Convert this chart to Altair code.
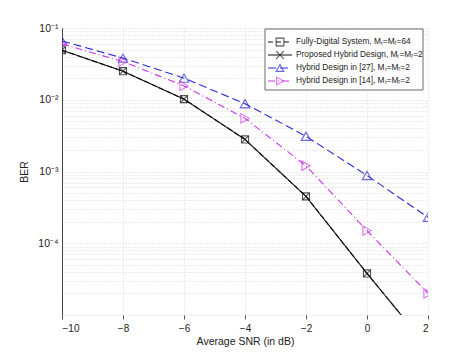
import altair as alt
import pandas as pd

snr = [-10, -8, -6, -4, -2, 0, 2]
ber_fd = [0.049, 0.025, 0.0102, 0.0028, 4.5e-4, 3.8e-5, 3.5e-6]
ber_prop = [0.049, 0.025, 0.0102, 0.0028, 4.5e-4, 3.8e-5, 3.5e-6]
ber_27 = [0.066, 0.038, 0.020, 0.0088, 3.1e-3, 8.8e-4, 2.3e-4]
ber_14 = [0.060, 0.034, 0.0156, 0.0055, 1.2e-3, 1.5e-4, 2.0e-5]

labels = [
    "Fully-Digital System, Mₜ=Mᵣ=64",
    "Proposed Hybrid Design, Mₜ=Mᵣ=2",
    "Hybrid Design in [27], Mₜ=Mᵣ=2",
    "Hybrid Design in [14], Mₜ=Mᵣ=2",
]
x_ticks = [-10, -8, -6, -4, -2, 0, 2]
minor = [m * d for d in [1e-5, 1e-4, 1e-3, 1e-2] for m in range(1, 10)] + [1e-1]

FONT = "Liberation Sans"
W, H = 366, 287

x_scale = alt.Scale(domain=[-10, 2], nice=False)
y_scale = alt.Scale(type="log", domain=[1e-5, 1e-1], nice=False)

label_expr = ("abs(log(datum.value)/LN10 - round(log(datum.value)/LN10)) < 0.001 ? "
              "(datum.value > 0.09 ? '10⁻¹' : datum.value > 0.009 ? '10⁻²' : "
              "datum.value > 0.0009 ? '10⁻³' : datum.value > 0.00009 ? '10⁻⁴' : '') : ''")

def frame(vals):
    return pd.DataFrame({"snr": snr, "ber": vals})

x_axis = alt.Axis(values=x_ticks, title="Average SNR (in dB)", grid=True,
                  gridDash=[1, 2], gridColor="#d6d6d6", domain=False,
                  tickColor="#555", tickSize=4, labelFont=FONT, labelFontSize=10,
                  labelColor="#222", titleFont=FONT, titleFontSize=10.5,
                  titleFontWeight="normal", titleColor="#222", labelPadding=4,
                  titlePadding=3)
y_axis = alt.Axis(values=minor, labelExpr=label_expr, title="BER", grid=True,
                  gridDash=[1, 2], gridColor="#d6d6d6", domainColor="#444",
                  tickSize=0, labelFont=FONT, labelFontSize=10.5, labelColor="#222",
                  titleFont=FONT, titleFontSize=10.5, titleFontWeight="normal",
                  titleColor="#222", labelPadding=4, titlePadding=8)

X = alt.X("snr:Q", scale=x_scale, axis=x_axis)
Y = alt.Y("ber:Q", scale=y_scale, axis=y_axis)

def series(vals, color, dash, shape, size):
    base = alt.Chart(frame(vals))
    line = base.mark_line(color=color, strokeDash=dash, strokeWidth=1.1, clip=True).encode(x=X, y=Y)
    pts = base.mark_point(shape=shape, color=color, filled=False, size=size,
                          strokeWidth=1.1, clip=True).encode(x=X, y=Y)
    return [line, pts]

BLACK = "#111111"
BLUE = "#2a2ad6"
MAG = "#cc33ee"
XSHAPE = "M-1,-1L1,1M-1,1L1,-1"

layers = []
layers += series(ber_fd, BLACK, [5, 3], "square", 50)
layers += series(ber_prop, BLACK, [1, 0], XSHAPE, 50)
layers += series(ber_27, BLUE, [8, 4], "triangle-up", 90)
layers += series(ber_14, MAG, [7, 3, 1, 3], "triangle-right", 90)

# legend
one = alt.Chart(pd.DataFrame({"k": [0]}))
legend = [one.mark_rect(fill="white", stroke="#444", strokeWidth=0.8).encode(
    x=alt.value(203), x2=alt.value(361), y=alt.value(1), y2=alt.value(62))]
rows_y = [14, 27, 40, 53]
styles = [
    (BLACK, [5, 3], "square"),
    (BLACK, [1, 0], XSHAPE),
    (BLUE, [8, 4], "triangle-up"),
    (MAG, [7, 3, 1, 3], "triangle-right"),
]
for lab, yy, (c, d, s) in zip(labels, rows_y, styles):
    legend.append(one.mark_rule(color=c, strokeDash=d, strokeWidth=1.1).encode(
        x=alt.value(206), x2=alt.value(230), y=alt.value(yy)))
    legend.append(one.mark_point(shape=s, color=c, filled=False, size=60, strokeWidth=1.1).encode(
        x=alt.value(218), y=alt.value(yy)))
    legend.append(one.mark_text(align="left", baseline="middle", font=FONT, fontSize=8.3,
                                color="#222").encode(x=alt.value(234), y=alt.value(yy),
                                                     text=alt.value(lab)))

chart = alt.layer(*layers, *legend).properties(
    width=W, height=H,
    padding={"left": 62, "top": 28, "right": 46, "bottom": 40},
    autosize=alt.AutoSizeParams(type="none"),
    background="white",
).configure_view(stroke=None)

chart.save("out.html", embed_options={"renderer": "svg", "actions": False})
